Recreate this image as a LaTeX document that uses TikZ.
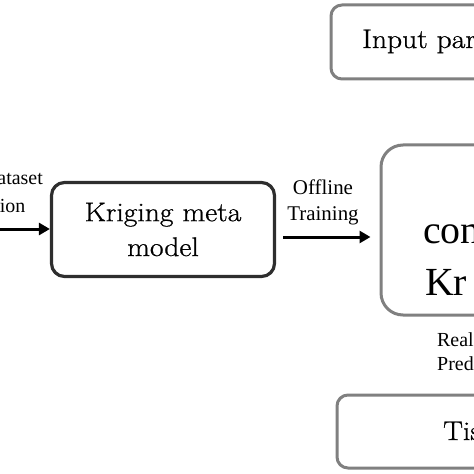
\documentclass[tikz,border=0pt]{standalone}
\usepackage{fontspec}
\newfontfamily\timesf{Liberation Serif}
\newfontfamily\goudyf{Latin Modern Roman}[FakeBold=0.8, FakeStretch=1.1]
\usetikzlibrary{arrows.meta}
\tikzset{
  graybox/.style={draw=black!50, line width=3bp, rounded corners=11bp, fill=white},
  darkbox/.style={draw=black!82, line width=3.2bp, rounded corners=13bp, fill=white},
  arr/.style={draw=black, line width=3bp, -{Triangle[length=11bp,width=12bp]}},
  lbl/.style={inner sep=0pt, font=\timesf\fontsize{20}{20}\selectfont},
  biglbl/.style={inner sep=0pt, font=\timesf\fontsize{40}{40}\selectfont},
  goudy/.style={inner sep=0pt, font=\goudyf\fontsize{27}{27}\selectfont},
}
\begin{document}
\begin{tikzpicture}[x=1bp,y=-1bp]
\useasboundingbox (0,0) rectangle (474,474);
\clip (0,0) rectangle (474,474);
% boxes
\node[graybox, minimum width=270bp, minimum height=74bp] (inp) at (466,42) {};
\node[graybox, rounded corners=22bp, minimum width=240bp, minimum height=170bp] (cm) at (501,230) {};
\node[graybox, minimum width=270bp, minimum height=73bp] (tis) at (472,431.5) {};
\node[darkbox, minimum width=223bp, minimum height=94bp, align=center,
      font=\goudyf\fontsize{27}{35}\selectfont] (km) at (163,229.5) {Kriging meta\\model};
% texts
\node[goudy, anchor=base west] (tinp) at (362,48) {Input par};
\node[goudy, anchor=base west] (ttis) at (443,440) {Tis};
\node[biglbl, anchor=base west] (tcon) at (423,243) {con};
\node[biglbl, anchor=base west] (tkr) at (425,295) {Kr};
\node[lbl, anchor=base west] (treal) at (437,346) {Real};
\node[lbl, anchor=base west] (tpred) at (437,370) {Pred};
\node[lbl, anchor=base east] (tdata) at (43,185) {ataset};
\node[lbl, anchor=base east] (tion) at (25.5,213) {ion};
\node[lbl, font=\timesf\fontsize{21}{21}\selectfont, anchor=base] (toff) at (323,195) {Offline};
\node[lbl, font=\timesf\fontsize{21}{21}\selectfont, anchor=base] (ttrain) at (323,221) {Training};
% connectors
\coordinate (src) at (-5,229);
\draw[arr] (src) -- (km.west |- src);
\draw[arr] ([xshift=7bp,yshift=-7.5bp]km.east) -- ([xshift=-9bp,yshift=-7bp]cm.west);
\end{tikzpicture}
\end{document}
